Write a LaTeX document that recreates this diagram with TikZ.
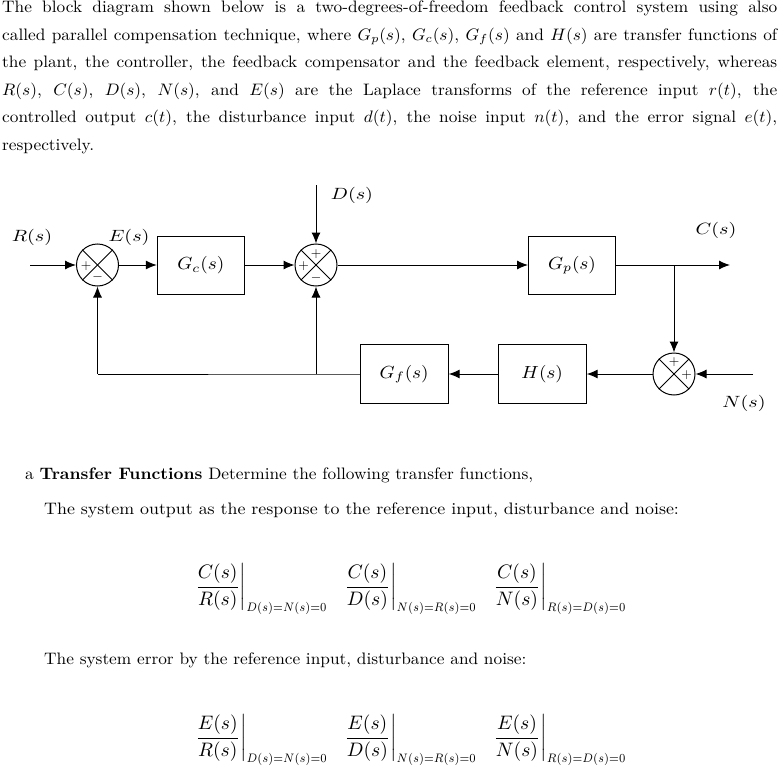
\documentclass[tikz,border=0pt]{standalone}
\usetikzlibrary{arrows.meta}
\newcommand{\txtsc}[1]{\scalebox{1.73}[1.66]{#1}}
\newcommand{\lblsc}[1]{\scalebox{2.0}[1.63]{#1}}
\newcommand{\blksc}[1]{\scalebox{1.92}[1.75]{#1}}
\newcommand{\eqsc}[1]{\scalebox{1.95}[1.95]{#1}}
\newcommand{\subsc}[1]{\scalebox{0.82}[0.9]{$\scriptstyle #1$}}
\begin{document}
\begin{tikzpicture}[x=1pt,y=-1pt,
  txt/.style={inner sep=0pt, anchor=base west},
  lbl/.style={inner sep=0pt},
  blk/.style={draw, line width=1pt, minimum width=87pt, minimum height=58pt, inner sep=0pt},
  sumj/.style={draw, circle, line width=1pt, minimum size=42pt, inner sep=0pt},
  sgn/.style={inner sep=0pt},
  wire/.style={line width=1pt},
  arr/.style={line width=1pt, -{Latex[length=11pt,width=9pt]}},
  eq/.style={inner sep=0pt, anchor=base west}]
\useasboundingbox (0,0) rectangle (779,768);
% top paragraph
\node[txt] (t1) at (2,13) {\txtsc{\makebox[448pt][s]{The block diagram shown below is a two-degrees-of-freedom feedback control system using also}}};
\node[txt] (t2) at (2,40.4) {\txtsc{\makebox[448pt][s]{called parallel compensation technique, where $G_p(s)$, $G_c(s)$, $G_f(s)$ and $H(s)$ are transfer functions of}}};
\node[txt] (t3) at (2,67.8) {\txtsc{\makebox[448pt][s]{the plant, the controller, the feedback compensator and the feedback element, respectively, whereas}}};
\node[txt] (t4) at (2,95.2) {\txtsc{\makebox[448pt][s]{$R(s)$, $C(s)$, $D(s)$, $N(s)$, and $E(s)$ are the Laplace transforms of the reference input $r(t)$, the}}};
\node[txt] (t5) at (2,122.6) {\txtsc{\makebox[448pt][s]{controlled output $c(t)$, the disturbance input $d(t)$, the noise input $n(t)$, and the error signal $e(t)$,}}};
\node[txt] (t6) at (2,150) {\txtsc{respectively.}};
% diagram
\node[sumj] (s1) at (97.5,265) {};
\node[sumj] (s2) at (316,265) {};
\node[sumj] (s3) at (674,374) {};
\foreach \s in {s1,s2,s3}{
  \draw[wire] (\s.north east) -- (\s.south west);
  \draw[wire] (\s.north west) -- (\s.south east);
}
\node[blk] (gc) at (200.8,265) {\blksc{$G_c(s)$}};
\node[blk] (gp) at (572,265) {\blksc{$G_p(s)$}};
\node[blk, minimum width=88pt, minimum height=59pt] (h) at (542.2,374) {\blksc{$H(s)$}};
\node[blk, minimum width=88pt, minimum height=59pt] (gf) at (404.2,374) {\blksc{$G_f(s)$}};
% signs
\node[sgn] (p1) at (86,266) {\scalebox{1.35}{$+$}};
\node[sgn] (m1) at (97.5,277) {\scalebox{1.35}{$-$}};
\node[sgn] (p2a) at (303.5,266) {\scalebox{1.35}{$+$}};
\node[sgn] (p2b) at (316,254) {\scalebox{1.35}{$+$}};
\node[sgn] (m2) at (316,278) {\scalebox{1.35}{$-$}};
\node[sgn] (p3a) at (674,362) {\scalebox{1.35}{$+$}};
\node[sgn] (p3b) at (686.5,375) {\scalebox{1.35}{$+$}};
% coordinates
\coordinate (rin) at (30,265);
\coordinate (din) at (316,185);
\coordinate (br) at (674,265);
\coordinate (cout) at (730,265);
\coordinate (nin) at (753,374);
\coordinate (fb1) at (97.5,374);
\coordinate (fb2) at (316,374);
% connectors
\draw[arr] (rin) -- (s1);
\draw[arr] (s1) -- (gc);
\draw[arr] (gc) -- (s2);
\draw[arr] (din) -- (s2);
\draw[arr] (s2) -- (gp);
\draw[arr] (gp) -- (cout);
\draw[arr] (br) -- (s3);
\draw[arr] (nin) -- (s3);
\draw[arr] (s3) -- (h);
\draw[arr] (h) -- (gf);
\draw[wire] (gf.west) -- (fb2) -- (fb1);
\draw[arr] (fb1) -- (s1);
\draw[arr] (fb2) -- (s2);
% labels
\node[lbl] (lr) at (32,237) {\lblsc{$R(s)$}};
\node[lbl] (le) at (129,237) {\lblsc{$E(s)$}};
\node[lbl] (ld) at (352,195) {\lblsc{$D(s)$}};
\node[lbl] (lc) at (716,230) {\lblsc{$C(s)$}};
\node[lbl] (ln) at (744,403) {\lblsc{$N(s)$}};
% bottom text
\node[txt] (a1) at (25,479) {\txtsc{a \textbf{Transfer Functions} Determine the following transfer functions,}};
\node[txt] (a2) at (44,514) {\scalebox{1.787}[1.66]{The system output as the response to the reference input, disturbance and noise:}};
\node[eq] (f1) at (193,592) {\eqsc{$\displaystyle\left.\frac{C(s)}{R(s)}\right|_{\subsc{D(s)=N(s)=0}}$}};
\node[eq] (f2) at (342,592) {\eqsc{$\displaystyle\left.\frac{C(s)}{D(s)}\right|_{\subsc{N(s)=R(s)=0}}$}};
\node[eq] (f3) at (491,592) {\eqsc{$\displaystyle\left.\frac{C(s)}{N(s)}\right|_{\subsc{R(s)=D(s)=0}}$}};
\node[txt] (a3) at (44,664) {\txtsc{The system error by the reference input, disturbance and noise:}};
\node[eq] (e1) at (193,743) {\eqsc{$\displaystyle\left.\frac{E(s)}{R(s)}\right|_{\subsc{D(s)=N(s)=0}}$}};
\node[eq] (e2) at (342,743) {\eqsc{$\displaystyle\left.\frac{E(s)}{D(s)}\right|_{\subsc{N(s)=R(s)=0}}$}};
\node[eq] (e3) at (491,743) {\eqsc{$\displaystyle\left.\frac{E(s)}{N(s)}\right|_{\subsc{R(s)=D(s)=0}}$}};
\end{tikzpicture}
\end{document}
